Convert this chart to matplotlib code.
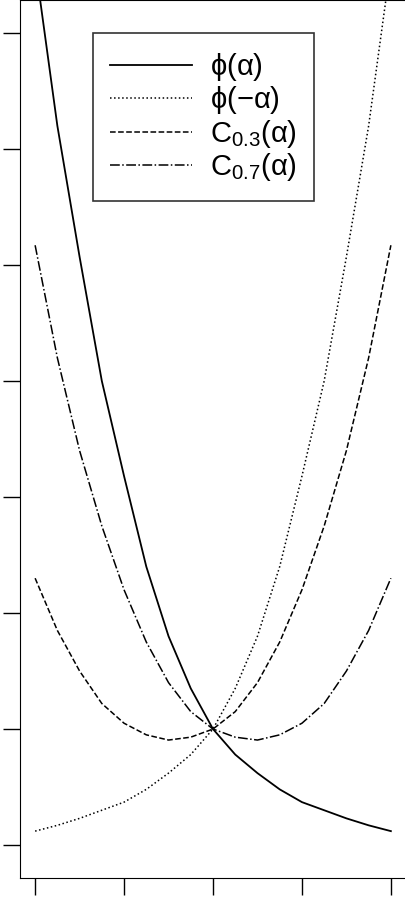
import matplotlib
matplotlib.use("Agg")
import matplotlib.pyplot as plt

alpha = [-2.0, -1.75, -1.5, -1.25, -1.0, -0.75, -0.5, -0.25, 0.0, 0.25, 0.5, 0.75, 1.0, 1.25, 1.5, 1.75, 2.0]
phi_pos = [7.6, 6.2, 5.07, 4.0, 3.18, 2.4, 1.8, 1.35, 1.0, 0.78, 0.62, 0.48, 0.37, 0.3, 0.23, 0.17, 0.12]
phi_neg = phi_pos[::-1]
c03 = [2.3, 1.85, 1.5, 1.22, 1.05, 0.95, 0.905, 0.93, 1.0, 1.15, 1.4, 1.75, 2.2, 2.75, 3.4, 4.2, 5.17]
c07 = c03[::-1]

xticks = [-2, -1, 0, 1, 2]
yticks = [0, 1, 2, 3, 4, 5, 6, 7]

plt.rcParams['mathtext.fontset'] = 'custom'
plt.rcParams['mathtext.rm'] = 'Liberation Sans'
plt.rcParams['mathtext.it'] = 'Liberation Sans'
plt.rcParams['font.family'] = ['Liberation Sans', 'DejaVu Sans']
fig = plt.figure(figsize=(4.06, 9.0), dpi=100)
ax = fig.add_axes([20/406, 22/900, 386/406, 878/900])
ax.plot(alpha, phi_pos, 'k-', lw=1.3, label=r'$\mathrm{ϕ(α)}$')
ax.plot(alpha, phi_neg, 'k:', lw=1.1, label=r'$\mathrm{ϕ(−α)}$')
ax.plot(alpha, c03, 'k--', lw=1.1, label=r'$\mathrm{C_{0.3}(α)}$')
ax.plot(alpha, c07, 'k-.', lw=1.1, label=r'$\mathrm{C_{0.7}(α)}$')
ax.set_xlim(-2.17, 2.17)
ax.set_ylim(-0.284, 7.284)
ax.set_xticks(xticks)
ax.set_yticks(yticks)
ax.set_xticklabels([])
ax.set_yticklabels([])
ax.tick_params(length=12, width=1, direction='out')
leg = ax.legend(loc='upper left', bbox_to_anchor=(0.189, 0.962), borderaxespad=0,
                fontsize=21, frameon=True, fancybox=False, edgecolor='black',
                handlelength=2.8, borderpad=0.6, labelspacing=0.05, handletextpad=0.6)
leg.get_frame().set_linewidth(1.2)
fig.savefig('out.png', dpi=100)
